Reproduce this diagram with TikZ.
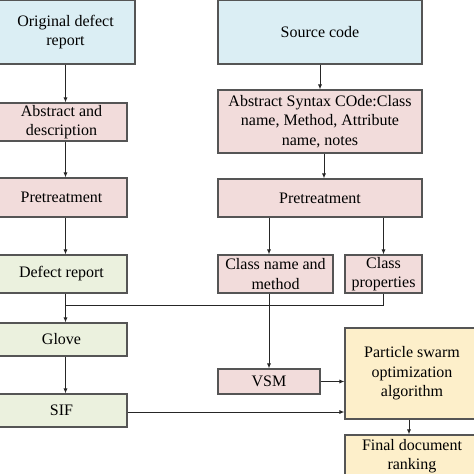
\documentclass[tikz,border=0pt]{standalone}
\usepackage{fontspec}
\setmainfont{Liberation Serif}
\usetikzlibrary{arrows.meta}
\definecolor{cblue}{HTML}{DBEEF4}
\definecolor{cpink}{HTML}{F2DCDB}
\definecolor{cgreen}{HTML}{EBF1DE}
\definecolor{cyel}{HTML}{FDEFCA}
\definecolor{cline}{HTML}{555555}
\tikzset{
  box/.style={draw=cline, line width=1.1pt, inner sep=0pt, align=center,
    font=\fontsize{16}{19.5}\selectfont, anchor=center},
  bluebox/.style={box, fill=cblue},
  pinkbox/.style={box, fill=cpink},
  greenbox/.style={box, fill=cgreen},
  yelbox/.style={box, fill=cyel},
  arr/.style={draw=black!85, line width=0.9pt, -{Latex[length=5pt,width=4pt]}},
  ln/.style={draw=black!85, line width=0.9pt},
}
\begin{document}
\begin{tikzpicture}[x=1pt,y=-1pt]
\useasboundingbox (0,0) rectangle (474,474);
\clip (0,0) rectangle (474,474);
\fill[white] (0,0) rectangle (474,474);
% left column
\node[bluebox, minimum width=139pt, minimum height=64pt] (orig) at (65.5,32) {Original defect\\report};
\node[pinkbox, minimum width=131pt, minimum height=38pt] (abs) at (61.5,122) {Abstract and\\description};
\node[pinkbox, minimum width=131pt, minimum height=39pt] (pre1) at (61.5,197.5) {Pretreatment};
\node[greenbox, minimum width=131pt, minimum height=38pt] (defect) at (61.5,274) {Defect report};
\node[greenbox, minimum width=131pt, minimum height=33pt] (glove) at (61.5,339.5) {Glove};
\node[greenbox, minimum width=131pt, minimum height=33pt] (sif) at (61.5,410.5) {SIF};
% right column
\node[bluebox, minimum width=204pt, minimum height=64pt] (src) at (320,32) {Source code};
\node[pinkbox, minimum width=204pt, minimum height=63pt] (ast) at (320,121.5) {Abstract Syntax COde:Class\\name, Method, Attribute\\name, notes};
\node[pinkbox, minimum width=204pt, minimum height=38pt] (pre2) at (320,198) {Pretreatment};
\node[pinkbox, minimum width=115pt, minimum height=38pt] (cnm) at (275.5,274) {Class name and\\method};
\node[pinkbox, minimum width=77pt, minimum height=38pt] (cp) at (383.5,274) {Class\\properties};
\node[pinkbox, minimum width=102pt, minimum height=25pt] (vsm) at (269,381.5) {VSM};
\node[yelbox, minimum width=134pt, minimum height=91pt] (pso) at (412,373.5) {Particle swarm\\optimization\\algorithm};
\node[yelbox, minimum width=134pt, minimum height=42pt] (final) at (412,456) {Final document\\ranking};
\coordinate (cx) at (65.5,0);
\coordinate (j) at (65.5,305);
% left arrows
\draw[arr] (orig.south) -- (orig.south |- abs.north);
\draw[arr] (abs.south -| cx) -- (pre1.north -| cx);
\draw[arr] (pre1.south -| cx) -- (defect.north -| cx);
\draw[arr] (defect.south -| cx) -- (glove.north -| cx);
\draw[arr] (glove.south -| cx) -- (sif.north -| cx);
\draw[ln] (j) -- (j -| cp.south) -- (cp.south);
% right arrows
\draw[arr] (src.south) -- (ast.north);
\draw[arr] ([xshift=4pt]ast.south) -- ([xshift=4pt]pre2.north);
\draw[arr] (pre2.south -| vsm.north) -- (cnm.north -| vsm.north);
\draw[arr] (pre2.south -| cp.north) -- (cp.north);
\draw[arr] (cnm.south -| vsm.north) -- (vsm.north);
\draw[arr] (vsm.east) -- (vsm.east -| pso.west);
\draw[arr] ([yshift=-1.5pt]sif.east) -- ([yshift=-1.5pt]sif.east -| pso.west);
\draw[arr] ([xshift=-3pt]pso.south) -- ([xshift=-3pt]final.north);
\end{tikzpicture}
\end{document}
